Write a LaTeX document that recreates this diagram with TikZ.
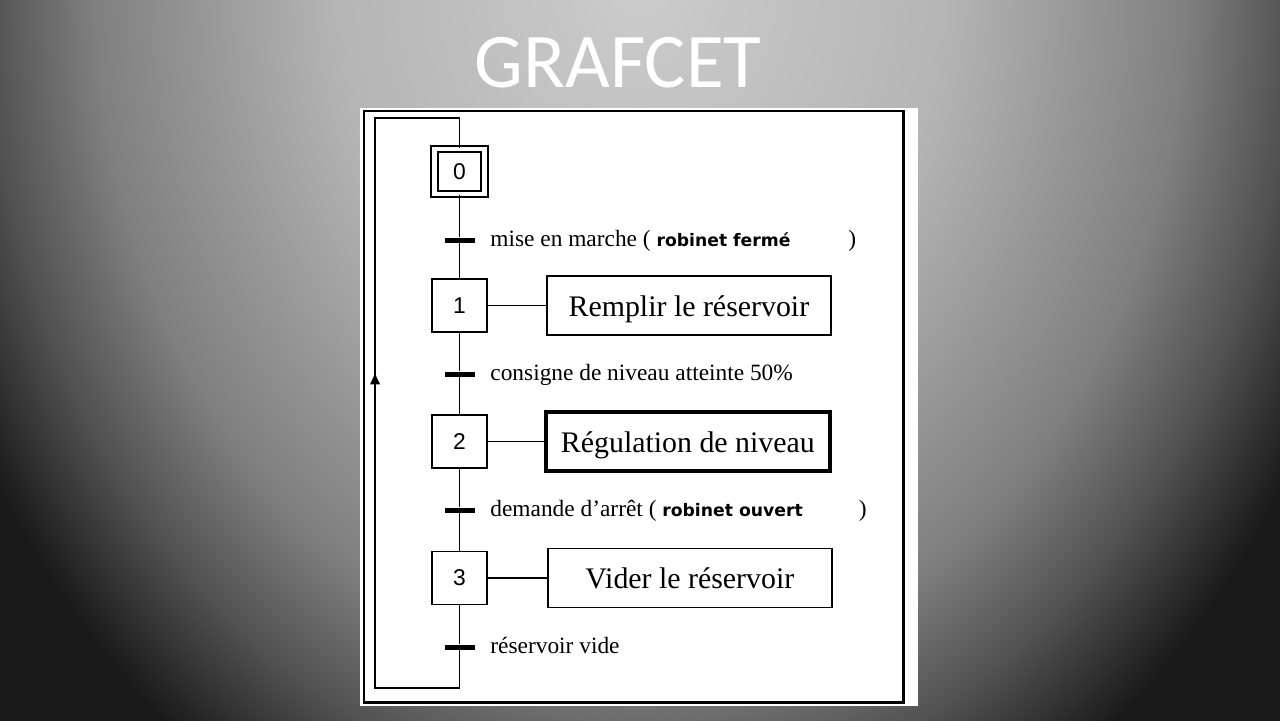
\documentclass[tikz,border=0pt]{standalone}
\usepackage{fontspec}
\setmainfont{Liberation Serif}
\newfontfamily\titlefont{Carlito}
\newfontfamily\numfont{Liberation Sans}
\newfontfamily\varfont{DejaVu Sans}
\usetikzlibrary{arrows.meta, positioning}
\tikzset{>={Latex[length=7pt, width=6pt]}}

\definecolor{bgA}{gray}{0.80}
\definecolor{bgB}{gray}{0.71}
\definecolor{bgC}{gray}{0.50}
\definecolor{bgD}{gray}{0.32}
\definecolor{bgE}{gray}{0.10}
\pgfdeclareradialshading{slidebg}{\pgfpoint{0bp}{0bp}}{%
  color(0bp)=(bgA); color(20bp)=(bgB); color(36bp)=(bgC);
  color(43bp)=(bgD); color(50bp)=(bgE); color(70bp)=(bgE)}

\tikzset{
  etape/.style={draw, line width=1.1pt, minimum width=1.1cm, minimum height=1.06cm,
    inner sep=0pt, font=\numfont\fontsize{13}{15}\selectfont},
  action/.style={draw, line width=1.1pt, minimum width=5.68cm, minimum height=1.18cm,
    inner sep=0pt, text height=12pt, text depth=0pt, font=\fontsize{17}{20}\selectfont},
  trans/.style={fill=black, minimum width=0.6cm, minimum height=0.1cm, inner sep=0pt},
  cond/.style={anchor=base west, inner sep=0pt, font=\fontsize{13.3}{16}\selectfont},
  var/.style={font=\varfont\bfseries\fontsize{9.8}{12}\selectfont}
}

\begin{document}
\begin{tikzpicture}[x=0.02cm, y=-0.02cm, line width=1.1pt]

\useasboundingbox (0,0) rectangle (1280,720);
\begin{scope}
\clip (0,0) rectangle (1280,720);
\fill[bgE] (0,0) rectangle (1280,720);
\node[inner sep=0pt, xscale=8.6, yscale=10.8] (bg) at (640,-20) {\pgfuseshading{slidebg}};
\end{scope}

\node[text=white, anchor=base, inner sep=0pt, font=\titlefont\fontsize{44}{50}\selectfont]
  (title) at (618,87) {GRAFCET};

\fill[white] (360,108) rectangle (918,706);
\draw[line width=1.7pt] (364,111) rectangle (903,702);

% etapes
\node[etape, double, double distance=2.4pt, minimum width=1.0cm, minimum height=0.9cm]
  (S0) at (459.5,171.5) {0};
\node[etape] (S1) at (459.5,305.5) {1};
\node[etape] (S2) at (459.5,441.5) {2};
\node[etape] (S3) at (459.5,578) {3};

% actions
\node[action, right=1.16cm of S1] (A1) {Remplir le réservoir};
\node[action, right=1.12cm of S2, line width=2.2pt] (A2) {Régulation de niveau};
\node[action, right=1.18cm of S3] (A3) {Vider le réservoir};
\draw (S1) -- (A1);
\draw[line width=0.7pt] (S2) -- (A2);
\draw (S3) -- (A3);

% transitions
\node[trans] (T1) at (459.5,240) {};
\node[trans] (T2) at (459.5,374) {};
\node[trans] (T3) at (459.5,510) {};
\node[trans] (T4) at (459.5,647) {};

\node[cond] (C1) at ([xshift=0.28cm, yshift=-0.13cm]T1.east)
  {mise en marche ( {\varfont\bfseries\fontsize{9.8}{12}\selectfont robinet fermé}\hspace{33pt})};
\node[cond] (C2) at ([xshift=0.28cm, yshift=-0.13cm]T2.east)
  {consigne de niveau atteinte 50\%};
\node[cond] (C3) at ([xshift=0.28cm, yshift=-0.13cm]T3.east)
  {demande d'arrêt ( {\varfont\bfseries\fontsize{9.8}{12}\selectfont robinet ouvert}\hspace{32pt})};
\node[cond] (C4) at ([xshift=0.28cm, yshift=-0.13cm]T4.east)
  {réservoir vide};

\draw (S0) -- (T1) -- (S1) -- (T2) -- (S2) -- (T3) -- (S3) -- (T4);

% retour
\coordinate (LB) at (375,688);
\coordinate (LT) at (375,118);
\coordinate (LA) at (375,372);
\draw (T4) |- (LB) -- (LT) -| (S0);
\draw[->] (LB) -- (LA);

\end{tikzpicture}
\end{document}
